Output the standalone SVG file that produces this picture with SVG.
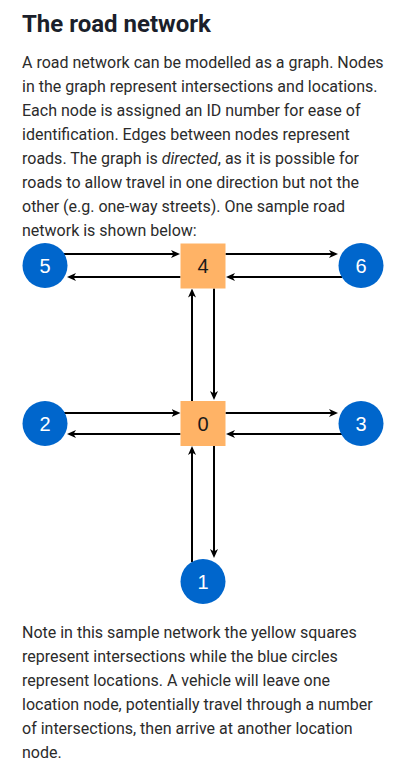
<svg xmlns="http://www.w3.org/2000/svg" width="411" height="772" viewBox="0 0 411 772">
<style>
.h{font-family:Roboto,"Liberation Sans",sans-serif;font-weight:700;font-size:24px;fill:#1b1f2b}
.p{font-family:Roboto,"Liberation Sans",sans-serif;font-size:16px;fill:#2b2b2b}
.loc{fill:#0066CC}
.int{fill:#FFB366}
.lbl{font-family:"Liberation Sans",Arial,sans-serif;font-size:20px;text-anchor:middle}
.lw{fill:#ffffff}
.lb{fill:#1a1a1a}
.e{stroke:#000;stroke-width:2;fill:none;marker-end:url(#ah)}
</style>
<defs>
<marker id="ah" markerUnits="userSpaceOnUse" viewBox="0 0 9 8" refX="5" refY="4" markerWidth="9" markerHeight="8" orient="auto">
<path d="M0,0 L9,4 L0,8 L2.5,4 Z" fill="#000"/>
</marker>
</defs>
<rect width="411" height="772" fill="#ffffff"/>
<text class="h" x="22" y="32">The road network</text>
<text class="p">
<tspan x="22" y="68">A road network can be modelled as a graph. Nodes</tspan>
<tspan x="22" y="92">in the graph represent intersections and locations.</tspan>
<tspan x="22" y="116">Each node is assigned an ID number for ease of</tspan>
<tspan x="22" y="140">identification. Edges between nodes represent</tspan>
<tspan x="22" y="164">roads. The graph is <tspan font-style="italic">directed</tspan>, as it is possible for</tspan>
<tspan x="22" y="188">roads to allow travel in one direction but not the</tspan>
<tspan x="22" y="212">other (e.g. one-way streets). One sample road</tspan>
<tspan x="22" y="236">network is shown below:</tspan>
</text>
<g id="connectors">
<line class="e" x1="64" y1="254" x2="176" y2="254"/>
<line class="e" x1="180.5" y1="277" x2="71" y2="277"/>
<line class="e" x1="225.5" y1="254" x2="334" y2="254"/>
<line class="e" x1="342" y1="277" x2="230" y2="277"/>
<line class="e" x1="192" y1="401" x2="192" y2="292.5"/>
<line class="e" x1="214" y1="288.5" x2="214" y2="396"/>
<line class="e" x1="64" y1="413" x2="176.5" y2="413"/>
<line class="e" x1="180.5" y1="434" x2="71" y2="434"/>
<line class="e" x1="225.5" y1="413" x2="334" y2="413"/>
<line class="e" x1="342" y1="434" x2="230" y2="434"/>
<line class="e" x1="192" y1="562" x2="192" y2="450"/>
<line class="e" x1="214" y1="446" x2="214" y2="554"/>
</g>
<g id="node5"><circle class="loc" cx="45" cy="265.5" r="22.5"/><text class="lbl lw" x="45" y="272.5">5</text></g>
<g id="node4"><rect class="int" x="180.5" y="243.5" width="45" height="45"/><text class="lbl lb" x="203" y="273">4</text></g>
<g id="node6"><circle class="loc" cx="361" cy="265.5" r="22.5"/><text class="lbl lw" x="361" y="272.5">6</text></g>
<g id="node2"><circle class="loc" cx="45" cy="423.5" r="22.5"/><text class="lbl lw" x="45" y="430.5">2</text></g>
<g id="node0"><rect class="int" x="180.5" y="401" width="45" height="45"/><text class="lbl lb" x="203" y="430.5">0</text></g>
<g id="node3"><circle class="loc" cx="361" cy="423.5" r="22.5"/><text class="lbl lw" x="361" y="430.5">3</text></g>
<g id="node1"><circle class="loc" cx="203" cy="581.5" r="22.5"/><text class="lbl lw" x="203" y="588.5">1</text></g>
<text class="p">
<tspan x="22" y="638">Note in this sample network the yellow squares</tspan>
<tspan x="22" y="662">represent intersections while the blue circles</tspan>
<tspan x="22" y="686">represent locations. A vehicle will leave one</tspan>
<tspan x="22" y="710">location node, potentially travel through a number</tspan>
<tspan x="22" y="734">of intersections, then arrive at another location</tspan>
<tspan x="22" y="758">node.</tspan>
</text>
</svg>
